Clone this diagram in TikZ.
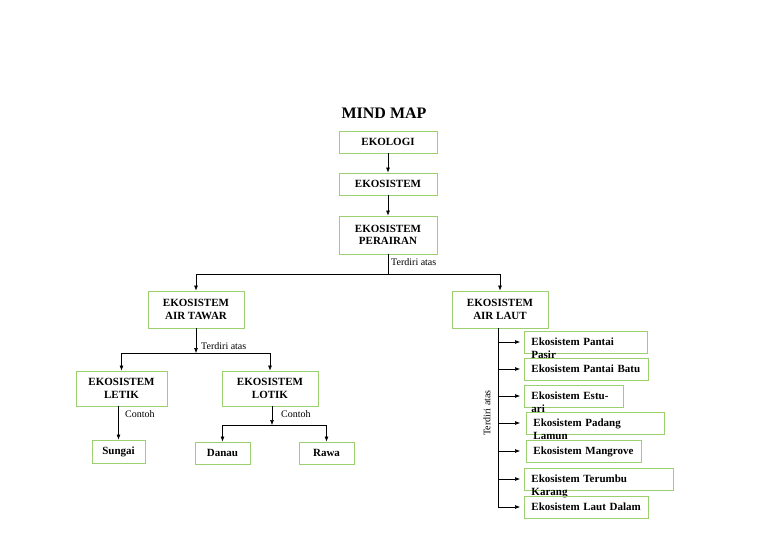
\documentclass[tikz,border=0pt]{standalone}
\usepackage{fontspec}
\setmainfont{Liberation Serif}
\usetikzlibrary{arrows.meta}
\definecolor{bx}{HTML}{9CCF6E}
\begin{document}
\begin{tikzpicture}[x=1pt,y=-1pt,
  box/.style={draw=bx,line width=0.9pt,font=\bfseries\fontsize{11}{12.5}\selectfont,align=center,inner sep=0pt},
  lbox/.style={box,text width=#1,align=left,inner xsep=7pt,text depth=0pt},
  lbl/.style={font=\fontsize{10}{11}\selectfont,inner sep=1pt},
  ar/.style={-{Latex[length=5pt,width=4pt]},line width=0.6pt},
  ln/.style={line width=0.6pt}]
\useasboundingbox (0,0) rectangle (768,543);
\node[font=\bfseries\fontsize{16}{18}\selectfont] (title) at (384,113) {MIND MAP};
\node[box,minimum width=98pt,minimum height=22pt] (eko) at (388,142) {EKOLOGI};
\node[box,minimum width=98pt,minimum height=22pt] (eks) at (388,184) {EKOSISTEM};
\node[box,minimum width=98pt,minimum height=38pt] (per) at (388,235) {EKOSISTEM\\PERAIRAN};
\node[box,minimum width=96pt,minimum height=37pt] (tawar) at (196,309.5) {EKOSISTEM\\AIR TAWAR};
\node[box,minimum width=96pt,minimum height=37pt] (laut) at (500,309.5) {EKOSISTEM\\AIR LAUT};
\node[box,minimum width=91pt,minimum height=35pt] (letik) at (121.5,388.5) {EKOSISTEM\\LETIK};
\node[box,minimum width=96pt,minimum height=35pt] (lotik) at (270,388.5) {EKOSISTEM\\LOTIK};
\node[box,minimum width=53pt,minimum height=23pt] (sungai) at (118.5,451.5) {Sungai};
\node[box,minimum width=55pt,minimum height=22pt] (danau) at (222.5,453) {Danau};
\node[box,minimum width=55pt,minimum height=22pt] (rawa) at (326.5,453) {Rawa};
\draw[ar] (eko) -- (eks);
\draw[ar] (eks) -- (per);
\coordinate (j1) at (388,274);
\draw[ln] (per.south) -- (j1);
\node[lbl,anchor=west] (t1) at (390,262) {Terdiri atas};
\draw[ln] (tawar.north|-j1) -- (laut.north|-j1);
\draw[ar] (tawar.north|-j1) -- (tawar.north);
\draw[ar] (laut.north|-j1) -- (laut.north);
\coordinate (j2) at (196,353);
\draw[ar] (tawar.south) -- (j2);
\node[lbl,anchor=west] (t2) at (200,346) {Terdiri atas};
\draw[ln] (letik.north|-j2) -- (lotik.north|-j2);
\draw[ar] (letik.north|-j2) -- (letik.north);
\draw[ar] (lotik.north|-j2) -- (lotik.north);
\draw[ar] (letik.south-|sungai.north) -- (sungai.north);
\node[lbl,anchor=west] (c1) at (124,414) {Contoh};
\coordinate (j3) at (272,425);
\draw[ar] (lotik.south-|j3) -- (j3);
\node[lbl,anchor=west] (c2) at (280,414) {Contoh};
\draw[ln] (danau.north|-j3) -- (rawa.north|-j3);
\draw[ar] (danau.north|-j3) -- (danau.north);
\draw[ar] (rawa.north|-j3) -- (rawa.north);
\foreach \n/\t/\y/\x/\w in {a/Ekosistem Pantai Pasir/342/524/109,b/Ekosistem Pantai Batu/369/524/110,c/Ekosistem Estuari/396/524/85,d/Ekosistem Padang Lamun/423/526/124,e/Ekosistem Mangrove/451/526/101,f/Ekosistem Terumbu Karang/479/524/135,g/Ekosistem Laut Dalam/507/524/110}{
  \node[lbox=\w pt,minimum height=22pt,anchor=west] (\n) at (\x,\y) {\t};
  \draw[ar] (498,\y) -- (520,\y);
}
\coordinate (lb) at (498,507);
\draw[ln] (498,328) -- (lb);
\node[lbl,rotate=90] (t3) at (487,413) {Terdiri atas};
\end{tikzpicture}
\end{document}
